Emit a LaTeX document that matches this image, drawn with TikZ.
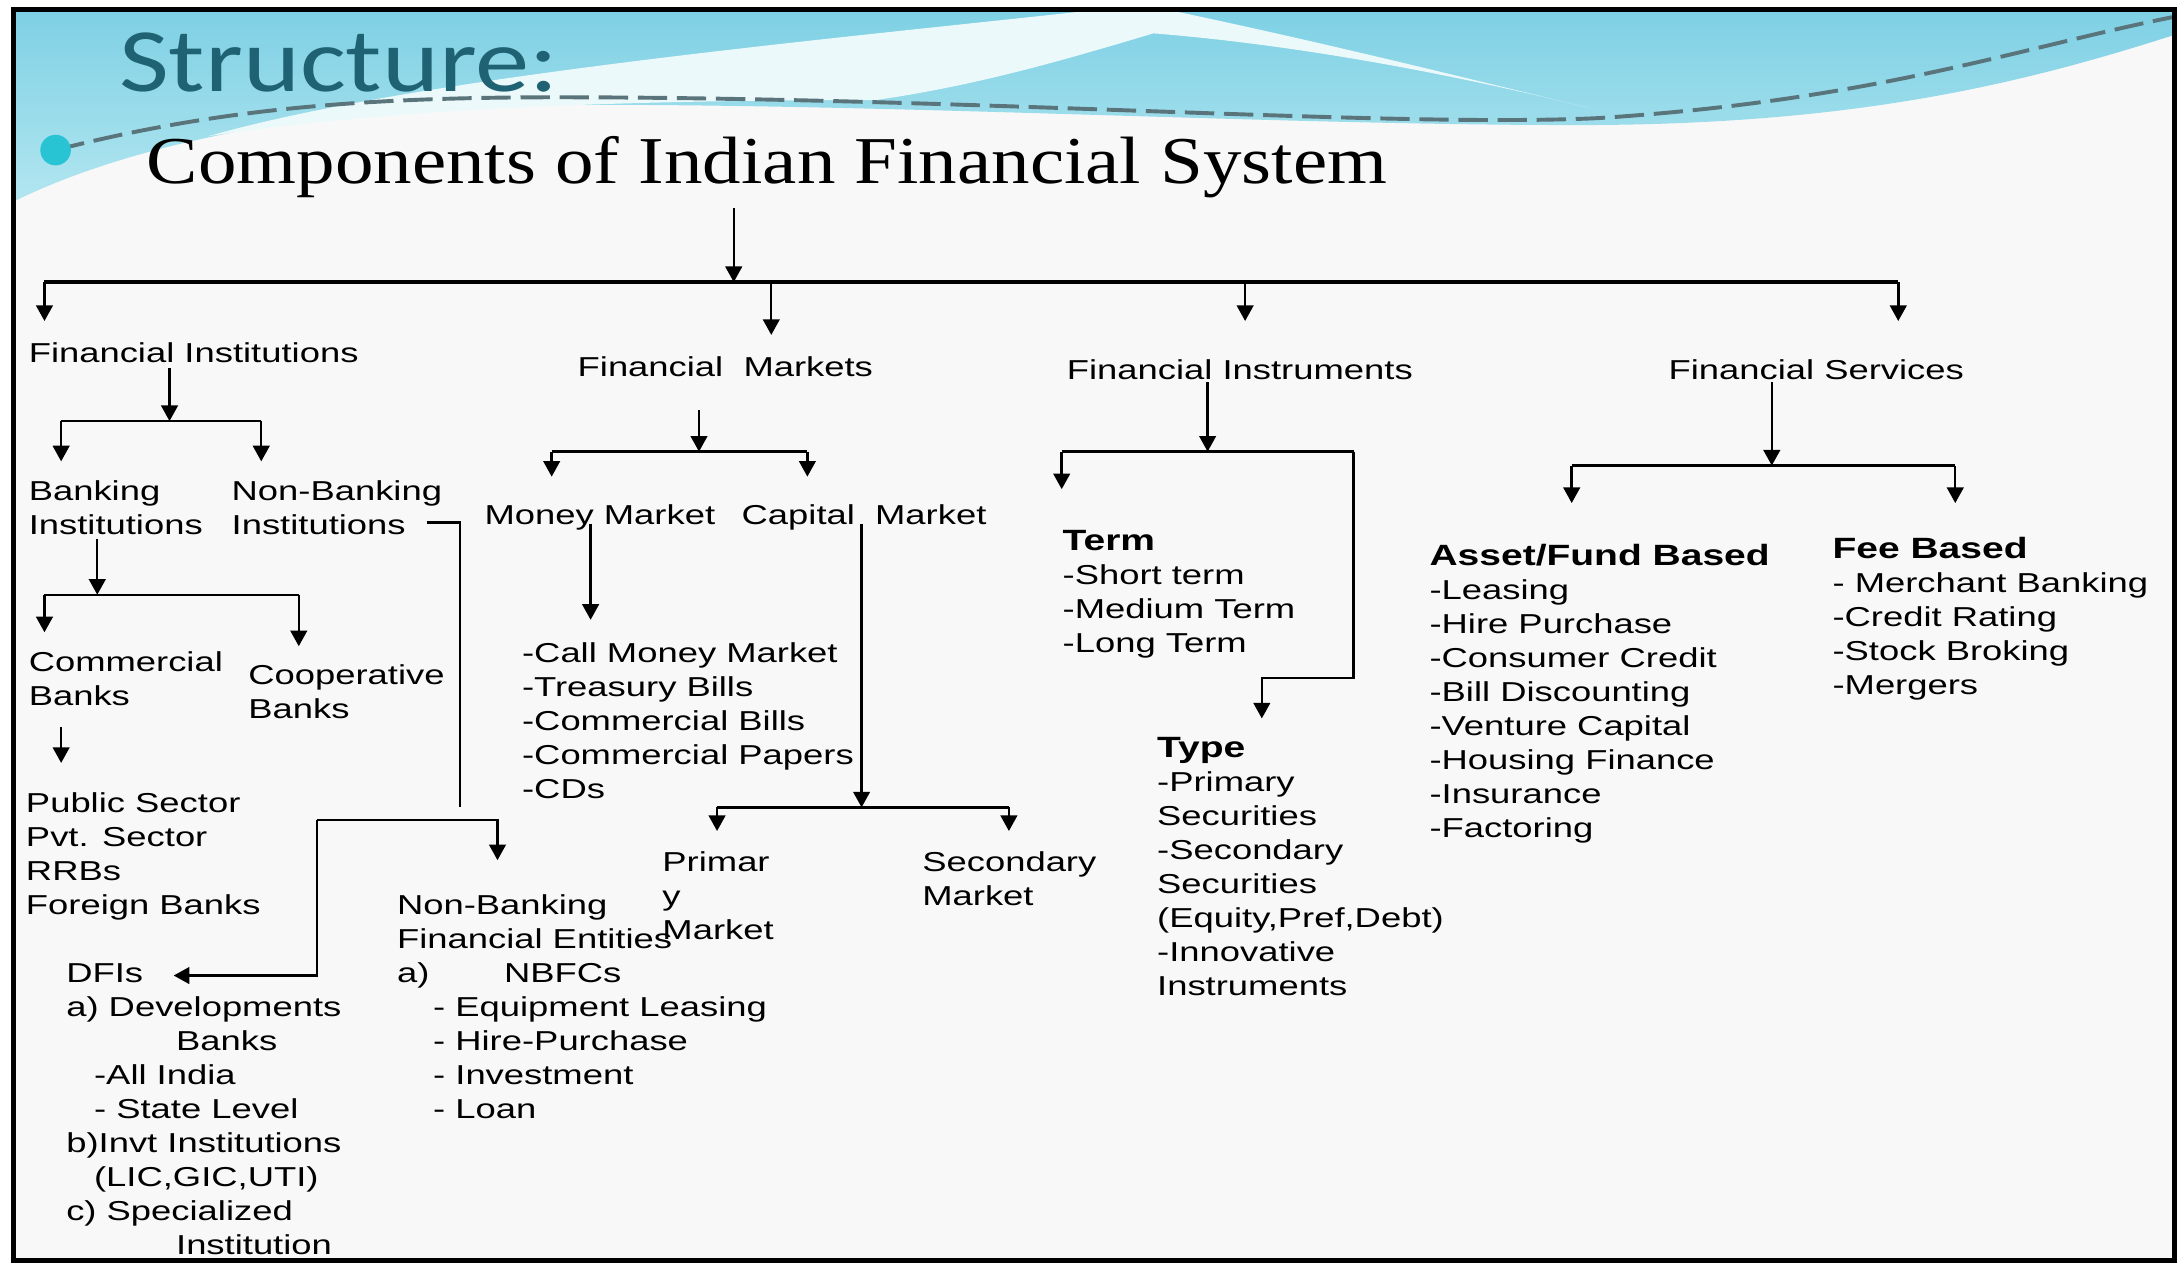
\documentclass[tikz,border=0pt]{standalone}
\usepackage{fontspec}
\setmainfont{Liberation Sans}
\newfontfamily\chartfont[FakeStretch=1.33]{Liberation Sans}
\newfontfamily\slidefont[FakeStretch=1.2]{Carlito}
\newfontfamily\captionfont[FakeStretch=1.15]{Liberation Serif}
\usetikzlibrary{arrows.meta}
\definecolor{slideteal}{RGB}{31,98,116}
\definecolor{swooshlight}{RGB}{178,230,240}
\definecolor{swooshmid}{RGB}{126,208,228}
\definecolor{swooshdot}{RGB}{40,196,212}
\definecolor{paper}{RGB}{248,248,248}
\newcommand{\subhead}[1]{{\fontsize{6}{6.95}\selectfont\bfseries #1}}
\tikzset{
  link/.style={line width=0.5pt},
  arr/.style={link,-{Triangle[width=3.4pt,length=3.2pt]}},
  item/.style={font=\chartfont\fontsize{5.6}{6.95}\selectfont,align=left,anchor=north west,
    yshift=4pt,inner sep=0pt,execute at begin node=\strut},
}
\begin{document}
\begin{tikzpicture}[x=0.01cm,y=-0.01cm]
\useasboundingbox (0,0) rectangle (1568,909);
% slide background and swoosh
\fill[paper] (10,7) rectangle (1565,907);
\shade[top color=swooshmid,bottom color=swooshlight] (10,7) -- (1565,7) -- (1565,25)
  .. controls (1450,62) and (1330,90) .. (1135,90)
  .. controls (900,90) and (600,72) .. (350,76)
  .. controls (200,80) and (80,110) .. (10,145) -- cycle;
\fill[white!75!swooshlight] (150,98) .. controls (300,55) and (600,28) .. (790,7) -- (840,7)
  .. controls (950,30) and (1050,55) .. (1145,78)
  .. controls (1040,52) and (930,32) .. (830,24)
  .. controls (760,45) and (700,62) .. (630,72)
  .. controls (450,72) and (280,78) .. (150,98) -- cycle;
\draw[gray!60!slideteal,line width=0.8pt,dash pattern=on 6pt off 2pt]
  (40,108) .. controls (150,80) and (250,70) .. (400,70)
  .. controls (700,70) and (1000,92) .. (1150,85)
  .. controls (1350,72) and (1450,35) .. (1565,12);
\fill[swooshdot] (40,108) circle[radius=1.1mm];
\draw[line width=1pt] (10,7) rectangle (1565,907);

% titles
\node[font=\slidefont\fontsize{18.5}{20}\selectfont,text=slideteal,anchor=base west,inner sep=0pt] (head) at (85,66) {Structure:};
\node[font=\captionfont\fontsize{13.7}{15}\selectfont,anchor=base west,inner sep=0pt] (ttl) at (105,132) {Components of Indian Financial System};

% first level
\node[item] (fi) at (20,257) {Financial Institutions};
\node[item] (fm) at (415,267) {Financial\ \ Markets};
\node[item] (fins) at (767,269) {Financial Instruments};
\node[item] (fs) at (1200,269) {Financial Services};

% institutions
\node[item] (bank) at (20,359) {Banking\\Institutions};
\node[item] (nbank) at (166,359) {Non-Banking\\Institutions};
\node[item] (comm) at (20,482) {Commercial\\Banks};
\node[item] (coop) at (178,492) {Cooperative\\Banks};
\node[item] (sect) at (18,584) {Public Sector\\Pvt. Sector\\RRBs\\Foreign Banks};
\node[item] (nbfe) at (285,657) {Non-Banking\\Financial Entities\\\makebox[0.77cm][l]{a)}NBFCs\\
  \hspace*{0.26cm}- Equipment Leasing\\\hspace*{0.26cm}- Hire-Purchase\\\hspace*{0.26cm}- Investment\\\hspace*{0.26cm}- Loan};
\node[item] (dfi) at (47,707) {DFIs\\a) Developments\\\hspace*{0.79cm}Banks\\\hspace*{0.2cm}-All India\\\hspace*{0.2cm}- State Level\\
  b)Invt Institutions\\\hspace*{0.2cm}(LIC,GIC,UTI)\\c) Specialized\\\hspace*{0.79cm}Institution};

% markets
\node[item] (mm) at (348,374) {Money Market};
\node[item] (cm) at (533,374) {Capital\ \ Market};
\node[item] (mmlist) at (375,476) {-Call Money Market\\-Treasury Bills\\-Commercial Bills\\-Commercial Papers\\-CDs};
\node[item] (prim) at (476,626) {Primar\\y\\Market};
\node[item] (sec) at (663,626) {Secondary\\Market};

% instruments
\node[item] (term) at (764,395) {\subhead{Term}\\-Short term\\-Medium Term\\-Long Term};
\node[item] (type) at (832,544) {\subhead{Type}\\-Primary\\Securities\\-Secondary\\Securities\\(Equity,Pref,Debt)\\-Innovative\\Instruments};

% services
\node[item] (asset) at (1028,405) {\subhead{Asset/Fund Based}\\-Leasing\\-Hire Purchase\\-Consumer Credit\\-Bill Discounting\\-Venture Capital\\-Housing Finance\\-Insurance\\-Factoring};
\node[item] (fee) at (1318,400) {\subhead{Fee Based}\\- Merchant Banking\\-Credit Rating\\-Stock Broking\\-Mergers};

% main split
\coordinate (t0) at (528,150);
\coordinate (bar0) at (528,203);
\coordinate (d-fi) at (32,231);
\coordinate (d-fm) at (555,241);
\coordinate (d-fins) at (896,231);
\coordinate (d-fs) at (1366,231);
\draw[arr] (t0) -- (bar0);
\draw[link,line width=0.8pt] (bar0 -| d-fi) -- (bar0 -| d-fs);
\foreach \t in {d-fi,d-fm,d-fins,d-fs} \draw[arr] (bar0 -| \t) -- (\t);

% institutions split
\coordinate (fi-out) at (122,265);
\coordinate (fi-bar) at (122,303);
\coordinate (d-bank) at (44,332);
\coordinate (d-nbank) at (188,332);
\draw[arr] (fi-out) -- (fi-bar);
\draw[link] (fi-bar -| d-bank) -- (fi-bar -| d-nbank);
\foreach \t in {d-bank,d-nbank} \draw[arr] (fi-bar -| \t) -- (\t);

\coordinate (bank-out) at (70,388);
\coordinate (bank-bar) at (70,428);
\coordinate (d-comm) at (32,455);
\coordinate (d-coop) at (215,465);
\draw[arr] (bank-out) -- (bank-bar);
\draw[link] (bank-bar -| d-comm) -- (bank-bar -| d-coop);
\foreach \t in {d-comm,d-coop} \draw[arr] (bank-bar -| \t) -- (\t);

\coordinate (comm-out) at (44,523);
\coordinate (d-sect) at (44,549);
\draw[arr] (comm-out) -- (d-sect);

\coordinate (nbank-out) at (307,376);
\coordinate (nbank-end) at (331,581);
\draw[link] (nbank-out) -| (nbank-end);
\coordinate (nb-split) at (228,590);
\coordinate (d-nbfe) at (358,619);
\coordinate (d-dfi) at (125,702);
\draw[arr] (nb-split) -| (d-nbfe);
\draw[arr] (nb-split) |- (d-dfi);

% markets split
\coordinate (fm-out) at (503,295);
\coordinate (fm-bar) at (503,325);
\coordinate (d-mm) at (397,343);
\coordinate (d-cm) at (581,343);
\draw[arr] (fm-out) -- (fm-bar);
\draw[link] (fm-bar -| d-mm) -- (fm-bar -| d-cm);
\foreach \t in {d-mm,d-cm} \draw[arr] (fm-bar -| \t) -- (\t);

\coordinate (mm-out) at (425,377);
\coordinate (d-mmlist) at (425,446);
\draw[arr] (mm-out) -- (d-mmlist);

\coordinate (cm-out) at (620,377);
\coordinate (cm-bar) at (620,581);
\coordinate (d-prim) at (516,598);
\coordinate (d-sec) at (726,598);
\draw[arr] (cm-out) -- (cm-bar);
\draw[link] (cm-bar -| d-prim) -- (cm-bar -| d-sec);
\foreach \t in {d-prim,d-sec} \draw[arr] (cm-bar -| \t) -- (\t);

% instruments split
\coordinate (fins-out) at (869,275);
\coordinate (fins-bar) at (869,325);
\coordinate (d-term) at (764,352);
\coordinate (fins-elbow) at (974,488);
\coordinate (d-type) at (908,517);
\draw[arr] (fins-out) -- (fins-bar);
\draw[link] (fins-bar -| d-term) -- (fins-bar -| fins-elbow);
\draw[arr] (fins-bar -| d-term) -- (d-term);
\draw[arr] (fins-bar -| fins-elbow) -- (fins-elbow) -| (d-type);

% services split
\coordinate (fs-out) at (1275,275);
\coordinate (fs-bar) at (1275,335);
\coordinate (d-asset) at (1131,362);
\coordinate (d-fee) at (1407,362);
\draw[arr] (fs-out) -- (fs-bar);
\draw[link] (fs-bar -| d-asset) -- (fs-bar -| d-fee);
\foreach \t in {d-asset,d-fee} \draw[arr] (fs-bar -| \t) -- (\t);
\end{tikzpicture}
\end{document}
